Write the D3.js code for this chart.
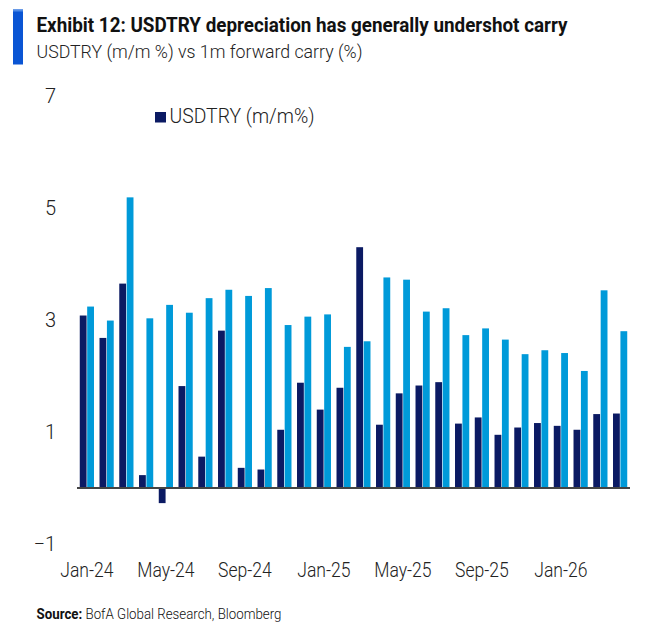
<!DOCTYPE html>
<html>
<head>
<meta charset="utf-8">
<script src="https://cdn.jsdelivr.net/npm/d3@7"></script>
<style>
  html, body { margin: 0; padding: 0; background: #fff; }
  svg { display: block; font-family: Roboto, "Liberation Sans", sans-serif; }
</style>
</head>
<body>
<div id="chart"></div>
<script>
// months on the x axis
const months = ["Jan-24","Feb-24","Mar-24","Apr-24","May-24","Jun-24","Jul-24","Aug-24","Sep-24","Oct-24","Nov-24","Dec-24",
                "Jan-25","Feb-25","Mar-25","Apr-25","May-25","Jun-25","Jul-25","Aug-25","Sep-25","Oct-25","Nov-25","Dec-25",
                "Jan-26","Feb-26","Mar-26","Apr-26"];
const tickMonths = ["Jan-24","May-24","Sep-24","Jan-25","May-25","Sep-25","Jan-26"];
const yTicks = [-1, 1, 3, 5, 7];

// USDTRY m/m % change
const usdtry = [3.08, 2.68, 3.65, 0.23, -0.27, 1.82, 0.56, 2.81, 0.36, 0.33, 1.04, 1.88,
                1.40, 1.79, 4.30, 1.13, 1.69, 1.83, 1.89, 1.15, 1.26, 0.95, 1.08, 1.16,
                1.11, 1.04, 1.32, 1.33];
// 1m forward carry %
const carry = [3.24, 2.99, 5.19, 3.03, 3.27, 3.13, 3.39, 3.54, 3.43, 3.57, 2.91, 3.06,
               3.10, 2.52, 2.62, 3.76, 3.72, 3.15, 3.21, 2.73, 2.85, 2.65, 2.39, 2.46,
               2.41, 2.09, 3.53, 2.80];

const seriesNames = ["USDTRY (m/m%)", "1m forward carry"];
const colors = ["#0b1a63", "#009ad9"];

const width = 647, height = 630;
const svg = d3.select("#chart").append("svg")
    .attr("width", width)
    .attr("height", height);

// header accent bar
svg.append("rect")
    .attr("x", 13).attr("y", 9.5)
    .attr("width", 10).attr("height", 55)
    .attr("fill", "#0a55d4");
svg.append("rect")
    .attr("x", 13).attr("y", 9.5)
    .attr("width", 10).attr("height", 2)
    .attr("fill", "#4f8be6");

svg.append("text")
    .attr("x", 36.5).attr("y", 32.3)
    .attr("font-size", 19.5)
    .attr("font-weight", "bold")
    .attr("fill", "#111")
    .attr("textLength", 531)
    .attr("lengthAdjust", "spacingAndGlyphs")
    .text("Exhibit 12: USDTRY depreciation has generally undershot carry");

svg.append("text")
    .attr("x", 36.5).attr("y", 58.3)
    .attr("font-size", 18.5)
    .attr("font-weight", 300)
    .attr("fill", "#222")
    .attr("textLength", 326)
    .attr("lengthAdjust", "spacingAndGlyphs")
    .text("USDTRY (m/m %) vs 1m forward carry (%)");

// scales
const y = d3.scaleLinear().domain([-1, 7]).range([544, 96]);
const x = d3.scaleBand().domain(months).range([77, 630])
    .paddingInner(0.28).paddingOuter(0.14);
const x1 = d3.scaleBand().domain(seriesNames).range([0, x.bandwidth()]).paddingInner(0.08);

const rows = months.map((m, i) => ({ month: m, values: [usdtry[i], carry[i]] }));

const groups = svg.append("g")
    .selectAll("g")
    .data(rows)
    .join("g")
    .attr("transform", d => `translate(${x(d.month)},0)`);

groups.selectAll("rect")
    .data(d => d.values.map((v, k) => ({ key: seriesNames[k], value: v, k })))
    .join("rect")
    .attr("x", d => x1(d.key))
    .attr("width", x1.bandwidth())
    .attr("y", d => y(Math.max(0, d.value)))
    .attr("height", d => Math.abs(y(d.value) - y(0)))
    .attr("fill", d => colors[d.k]);

// zero line
svg.append("line")
    .attr("x1", 77).attr("x2", 630)
    .attr("y1", y(0)).attr("y2", y(0))
    .attr("stroke", "#444")
    .attr("stroke-width", 2);

// y axis labels
const yAxis = svg.append("g")
    .attr("transform", "translate(56,0)")
    .call(d3.axisLeft(y).tickValues(yTicks).tickSize(0).tickPadding(0).tickFormat(d3.format("d")));
yAxis.select(".domain").remove();
yAxis.selectAll("text")
    .attr("font-size", 20)
    .attr("font-weight", 300)
    .attr("font-family", "Roboto, sans-serif")
    .attr("fill", "#222");

// x axis labels, slightly condensed
const xAxis = svg.append("g")
    .attr("transform", `translate(0,${y(-1)})`)
    .call(d3.axisBottom(x).tickValues(tickMonths).tickSize(0).tickPadding(19));
xAxis.select(".domain").remove();
xAxis.selectAll("text")
    .attr("font-size", 19.5)
    .attr("font-weight", 300)
    .attr("font-family", "Roboto, sans-serif")
    .attr("fill", "#222")
    .each(function () {
        const w = this.getComputedTextLength();
        d3.select(this).attr("textLength", w * 0.9).attr("lengthAdjust", "spacingAndGlyphs");
    });

// legend (only the first series is shown)
const legend = svg.append("g").attr("transform", "translate(155,112)");
legend.append("rect")
    .attr("width", 11).attr("height", 10.5)
    .attr("fill", colors[0]);
legend.append("text")
    .attr("x", 14.5).attr("y", 10.5)
    .attr("font-size", 20)
    .attr("font-weight", 300)
    .attr("fill", "#222")
    .attr("textLength", 145)
    .attr("lengthAdjust", "spacingAndGlyphs")
    .text(seriesNames[0]);

// source note
const src = svg.append("text")
    .attr("x", 36.5).attr("y", 619)
    .attr("font-size", 14)
    .attr("fill", "#111")
    .attr("textLength", 245)
    .attr("lengthAdjust", "spacingAndGlyphs");
src.append("tspan").attr("font-weight", "bold").text("Source:");
src.append("tspan").attr("font-weight", 300).text(" BofA Global Research, Bloomberg");
</script>
</body>
</html>
